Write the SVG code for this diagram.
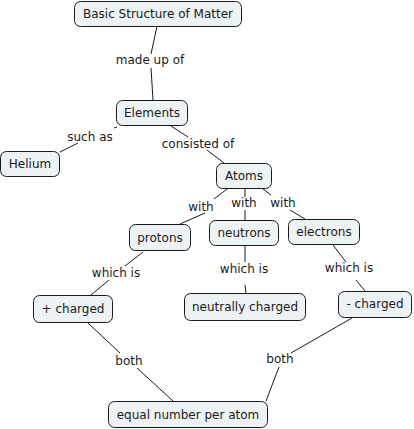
<svg xmlns="http://www.w3.org/2000/svg" width="414" height="429" viewBox="0 0 414 429">
<style>
.n rect{fill:#edf3f5;stroke:#1a1a1a;stroke-width:1}
text{font-family:"DejaVu Sans",Verdana,sans-serif;font-size:12px;fill:#1a1a1a;text-anchor:middle}
.c line{stroke:#1a1a1a;stroke-width:1}
</style>
<rect width="414" height="429" fill="#fff"/>
<g class="c" id="connectors">
<line x1="157" y1="26" x2="151" y2="54"/>
<line x1="151" y1="68" x2="153" y2="100"/>
<line x1="117" y1="127" x2="114" y2="128"/>
<line x1="78" y1="143" x2="60" y2="152"/>
<line x1="171" y1="126" x2="188" y2="137"/>
<line x1="207" y1="150" x2="224" y2="163"/>
<line x1="227" y1="189" x2="214" y2="199"/>
<line x1="205" y1="213" x2="180" y2="224"/>
<line x1="245" y1="189" x2="245" y2="197"/>
<line x1="245" y1="210" x2="245" y2="220"/>
<line x1="263" y1="189" x2="271" y2="195"/>
<line x1="290" y1="210" x2="305" y2="219"/>
<line x1="143" y1="252" x2="125" y2="266"/>
<line x1="109" y1="280" x2="91" y2="295"/>
<line x1="245" y1="245" x2="245" y2="262"/>
<line x1="245" y1="285" x2="246" y2="293"/>
<line x1="333" y1="245" x2="346" y2="262"/>
<line x1="356" y1="280" x2="365" y2="291"/>
<line x1="88" y1="323" x2="120" y2="353"/>
<line x1="137" y1="368" x2="173" y2="401"/>
<line x1="352" y1="318" x2="291" y2="353"/>
<line x1="279" y1="367" x2="266" y2="401"/>
</g>
<g id="labels">
<text x="150" y="64">made up of</text>
<text x="90" y="141">such as</text>
<text x="198" y="148">consisted of</text>
<text x="201" y="211">with</text>
<text x="244" y="207">with</text>
<text x="283" y="207">with</text>
<text x="116" y="277">which is</text>
<text x="244" y="273">which is</text>
<text x="349" y="272">which is</text>
<text x="129" y="365">both</text>
<text x="280" y="363">both</text>
</g>
<g class="n" id="n-bsm"><rect x="74.5" y="1.5" width="167" height="25" rx="6"/><text x="158" y="18">Basic Structure of Matter</text></g>
<g class="n" id="n-elements"><rect x="116.5" y="100.5" width="71" height="25" rx="6"/><text x="152" y="117">Elements</text></g>
<g class="n" id="n-helium"><rect x="0.5" y="151.5" width="59" height="25" rx="6"/><text x="30" y="168">Helium</text></g>
<g class="n" id="n-atoms"><rect x="216.5" y="163.5" width="55" height="25" rx="6"/><text x="244" y="180">Atoms</text></g>
<g class="n" id="n-protons"><rect x="129.5" y="224.5" width="61" height="26" rx="6"/><text x="160" y="242">protons</text></g>
<g class="n" id="n-neutrons"><rect x="209.5" y="220.5" width="69" height="25" rx="6"/><text x="244" y="237">neutrons</text></g>
<g class="n" id="n-electrons"><rect x="288.5" y="219.5" width="71" height="25" rx="6"/><text x="324" y="236">electrons</text></g>
<g class="n" id="n-plus"><rect x="33.5" y="295.5" width="79" height="27" rx="6"/><text x="73" y="313">+ charged</text></g>
<g class="n" id="n-neutral"><rect x="184.5" y="293.5" width="121" height="27" rx="6"/><text x="245" y="311">neutrally charged</text></g>
<g class="n" id="n-minus"><rect x="338.5" y="291.5" width="73" height="26" rx="6"/><text x="375" y="308">- charged</text></g>
<g class="n" id="n-equal"><rect x="108.5" y="401.5" width="159" height="26" rx="6"/><text x="188" y="419">equal number per atom</text></g>
</svg>
